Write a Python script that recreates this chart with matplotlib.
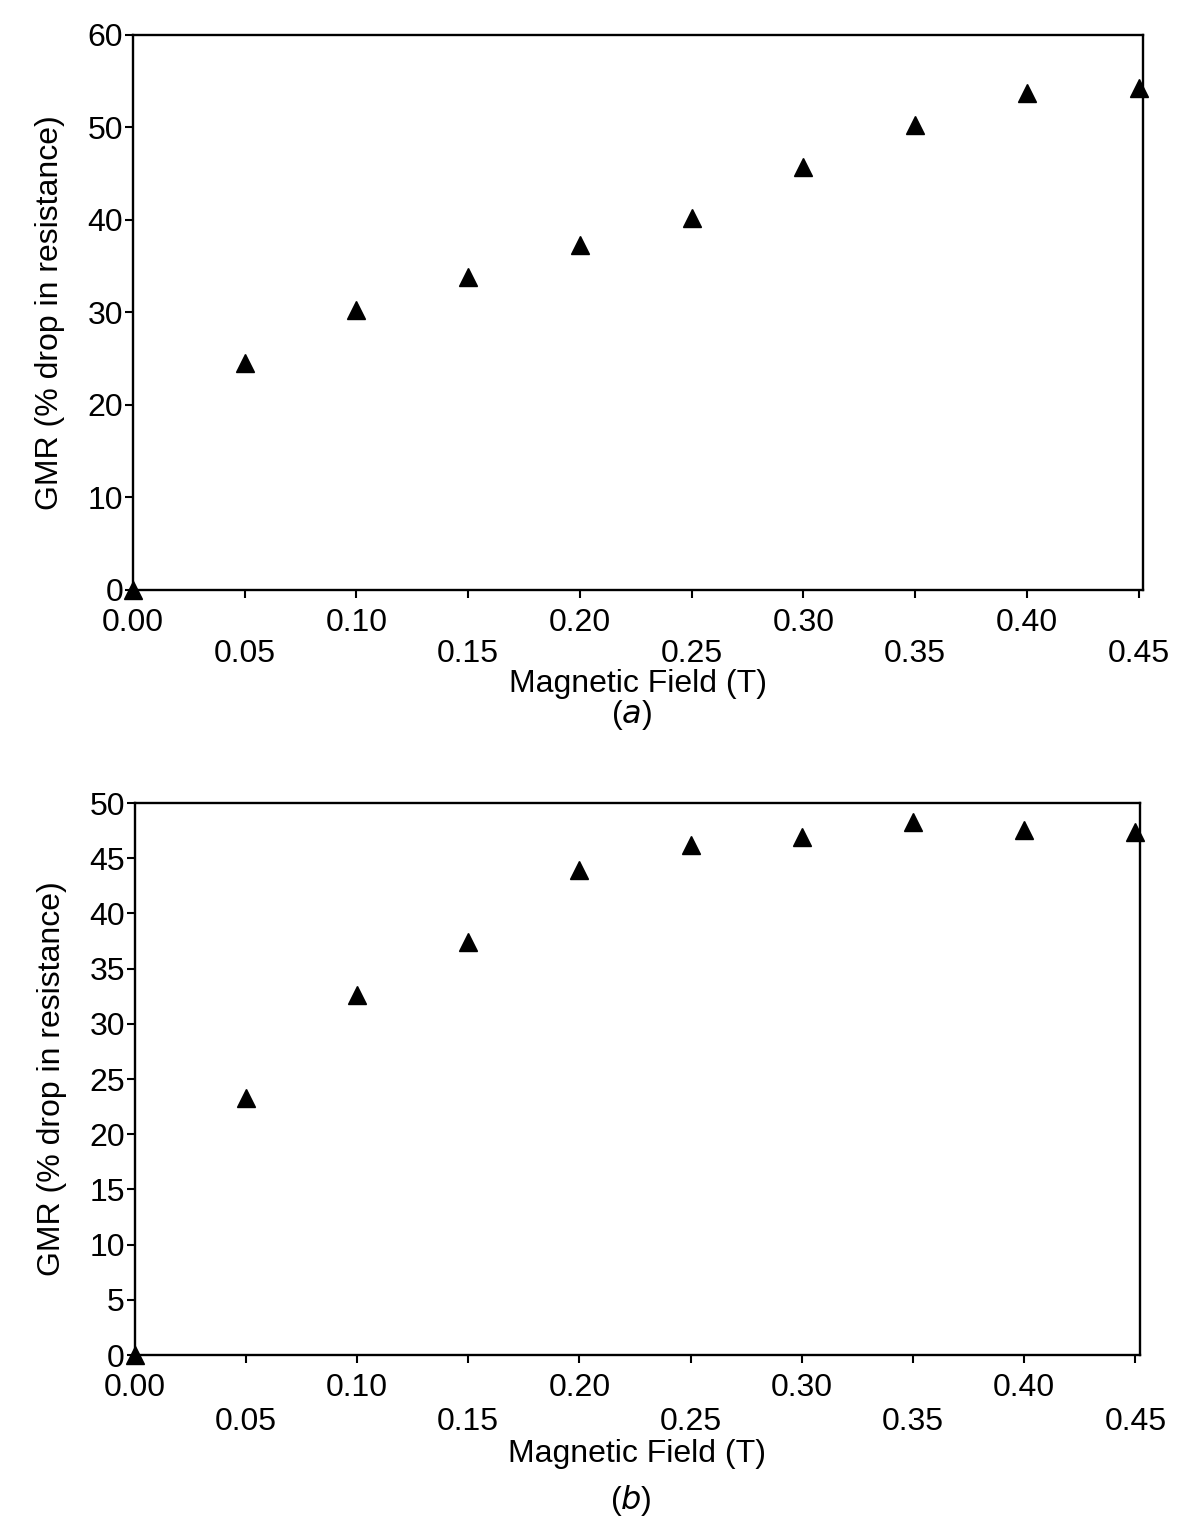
import matplotlib
matplotlib.use("Agg")
import matplotlib.pyplot as plt
import numpy as np

plt.rcParams['font.family'] = ['Liberation Sans', 'DejaVu Sans']

field = [0.00, 0.05, 0.10, 0.15, 0.20, 0.25, 0.30, 0.35, 0.40, 0.45]
gmr_a = [0.0, 24.5, 30.3, 33.8, 37.3, 40.2, 45.7, 50.3, 53.7, 54.3]
gmr_b = [0.0, 23.3, 32.6, 37.4, 43.9, 46.2, 46.9, 48.3, 47.6, 47.4]

x_ticks = [0.00, 0.05, 0.10, 0.15, 0.20, 0.25, 0.30, 0.35, 0.40, 0.45]
x_labels = ['0.00', '\n0.05', '0.10', '\n0.15', '0.20', '\n0.25',
            '0.30', '\n0.35', '0.40', '\n0.45']
yticks_a = np.arange(0, 61, 10)
yticks_b = np.arange(0, 51, 5)

fig = plt.figure(figsize=(11.8, 15.4), dpi=100)
ax1 = fig.add_axes([0.1127, 0.6169, 0.856, 0.3604])
ax2 = fig.add_axes([0.1140, 0.1201, 0.852, 0.3584])

FS = 23


def style(ax, y, yticks, ymax, xlabelpad, lsp):
    ax.plot(field, y, linestyle='none', marker='^', color='black',
            markersize=13, clip_on=False, zorder=5)
    ax.set_xlim(0, 0.452)
    ax.set_ylim(0, ymax)
    ax.set_xticks(x_ticks)
    ax.set_xticklabels(x_labels, linespacing=lsp)
    ax.set_yticks(yticks)
    for s in ax.spines.values():
        s.set_linewidth(1.7)
    ax.tick_params(axis='both', direction='out', length=6, width=1.5,
                   labelsize=FS)
    ax.tick_params(axis='y', pad=1)
    ax.tick_params(axis='x', pad=7)
    ax.set_xlabel('Magnetic Field (T)', fontsize=FS, labelpad=xlabelpad)
    ax.set_ylabel('GMR (% drop in resistance)', fontsize=FS, labelpad=16)


style(ax1, gmr_a, yticks_a, 60, 0, 1.05)
style(ax2, gmr_b, yticks_b, 50, 2, 1.15)

fig.text(0.535, 1 - 715 / 1540, '($a$)', ha='center', va='center', fontsize=FS)
fig.text(0.535, 1 - 1500 / 1540, '($b$)', ha='center', va='center', fontsize=FS)

fig.savefig('out.png', dpi=100)
